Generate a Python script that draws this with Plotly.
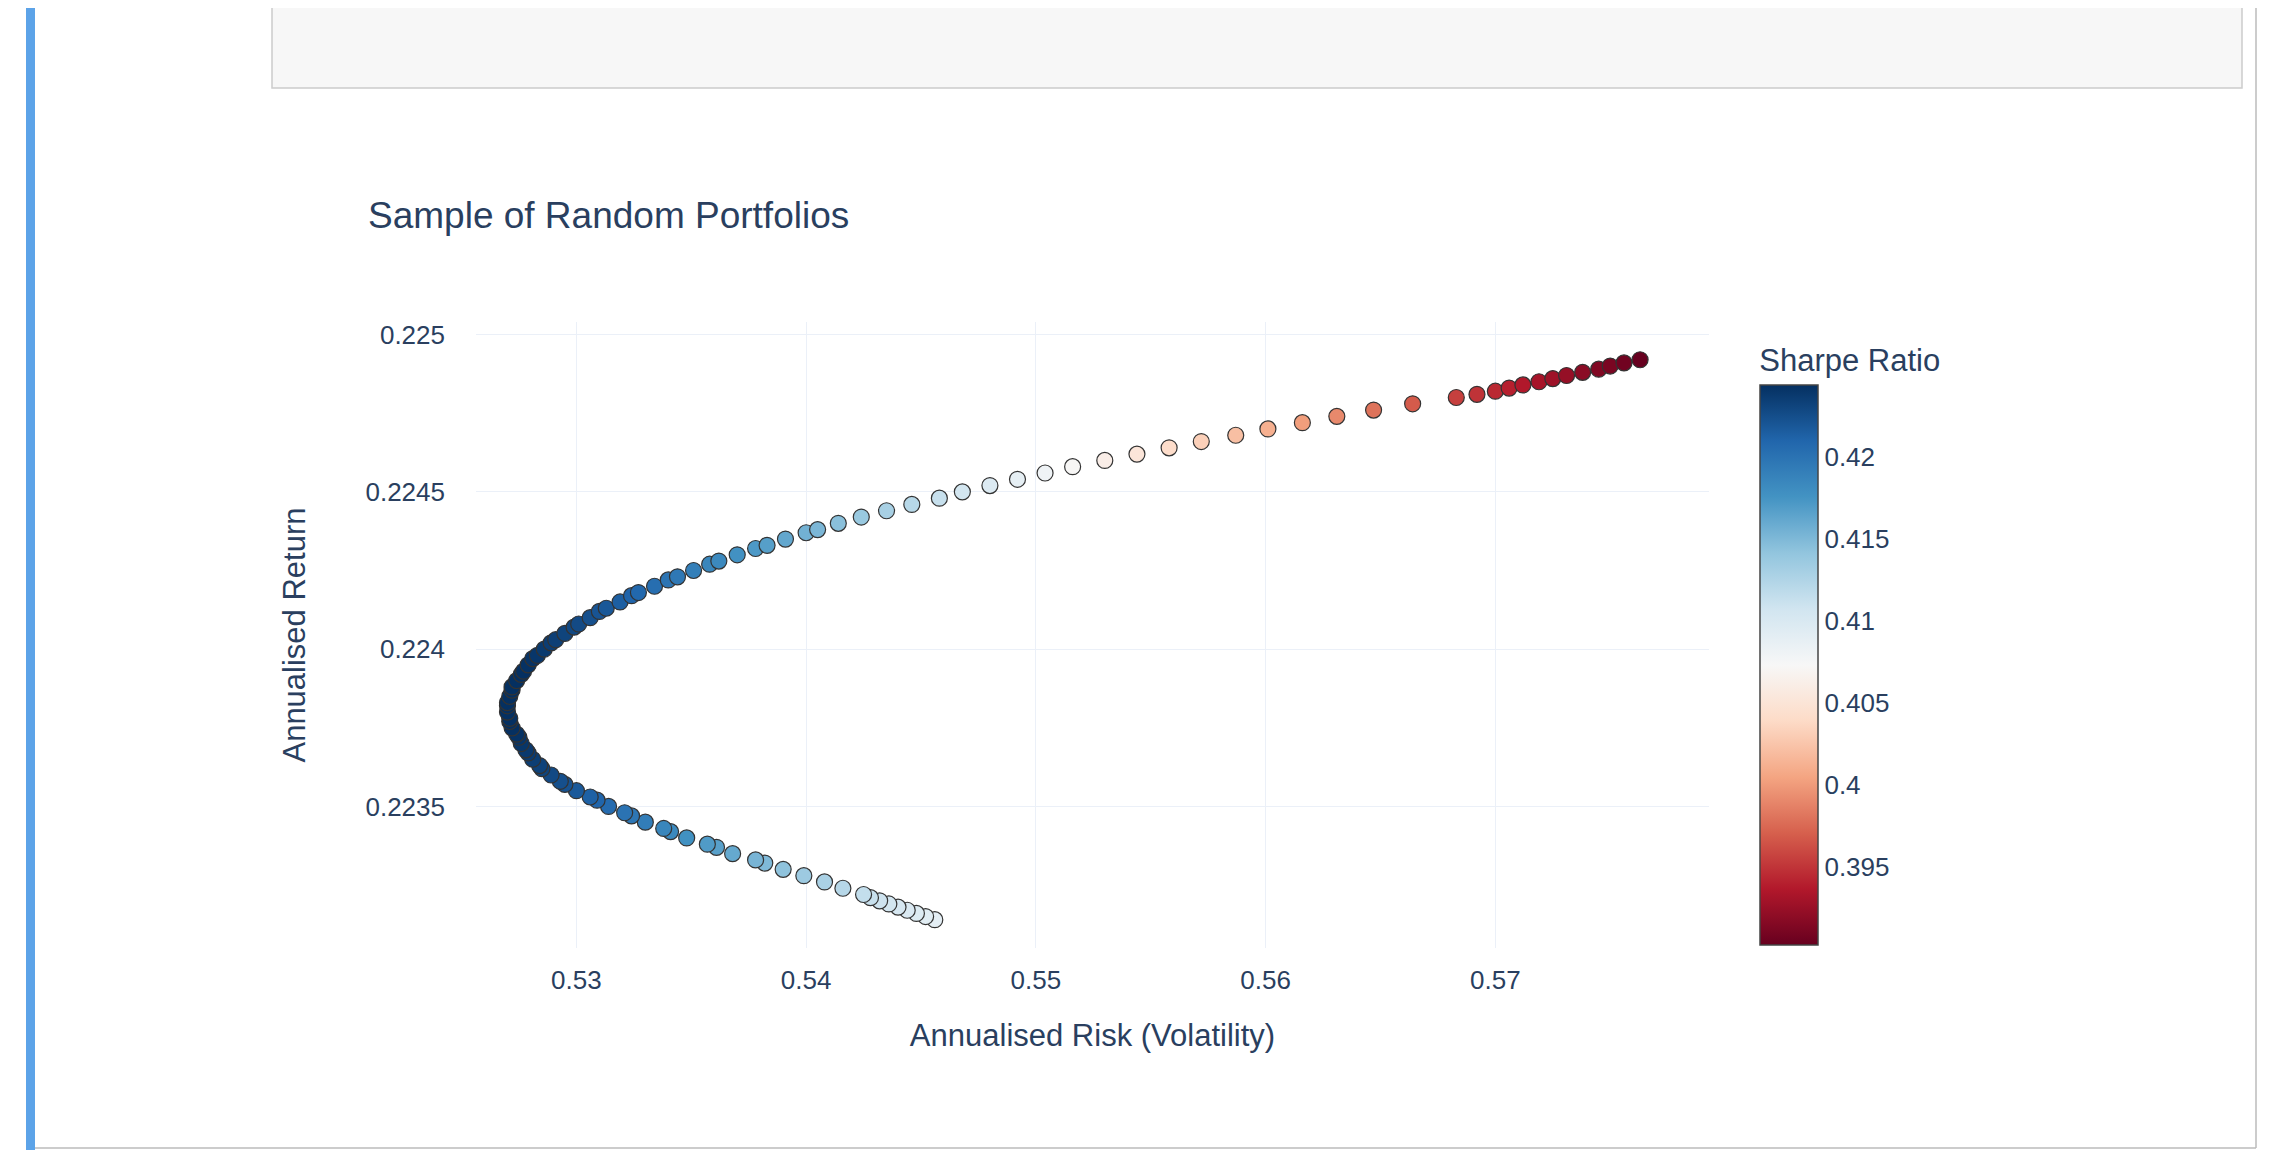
import plotly.graph_objects as go

returns = [0.22314,0.22315,0.22316,0.22317,0.22318,0.22319,0.22320,0.22321,0.22322,0.22324,0.22326,0.22328,0.22330,0.22332,0.22333,0.22335,0.22337,0.22338,0.22340,0.22342,0.22343,0.22345,0.22347,0.22348,0.22350,0.22352,0.22353,0.22355,0.22357,0.22358,0.22360,0.22362,0.22363,0.22365,0.22367,0.22368,0.22370,0.22372,0.22373,0.22375,0.22377,0.22378,0.22380,0.22382,0.22383,0.22385,0.22387,0.22388,0.22390,0.22392,0.22393,0.22395,0.22397,0.22398,0.22400,0.22402,0.22403,0.22405,0.22407,0.22408,0.22410,0.22412,0.22413,0.22415,0.22417,0.22418,0.22420,0.22422,0.22423,0.22425,0.22427,0.22428,0.22430,0.22432,0.22433,0.22435,0.22437,0.22438,
           0.22440,0.22442,0.22444,0.22446,0.22448,0.22450,0.22452,0.22454,0.22456,0.22458,0.22460,0.22462,0.22464,0.22466,0.22468,0.22470,0.22472,0.22474,0.22476,0.22478,0.22480,0.22481,0.22482,0.22483,0.22484,0.22485,0.22486,0.22487,0.22488,0.22489,0.22490,0.22491,0.22492]
risks = [0.5456,0.5452,0.5448,0.5444,0.5440,0.5436,0.5432,0.5428,0.5425,0.5416,0.5408,0.5399,0.5390,0.5382,0.5378,0.5368,0.5361,0.5357,0.5348,0.5341,0.5338,0.5330,0.5324,0.5321,0.5314,0.5309,0.5306,0.5300,0.5295,0.5293,0.5289,0.5285,0.5284,0.5281,0.5279,0.5278,0.5276,0.5275,0.5274,0.5272,0.5271,0.5271,0.5270,0.5270,0.5270,0.5271,0.5272,0.5272,0.5274,0.5276,0.5277,0.5279,0.5281,0.5283,0.5286,0.5289,0.5291,0.5295,0.5299,0.5301,0.5306,0.5310,0.5313,0.5319,0.5324,0.5327,0.5334,0.5340,0.5344,0.5351,0.5358,0.5362,0.5370,0.5378,0.5383,0.5391,0.5400,0.5405,
         0.5414,0.5424,0.5435,0.5446,0.5458,0.5468,0.5480,0.5492,0.5504,0.5516,0.5530,0.5544,0.5558,0.5572,0.5587,0.5601,0.5616,0.5631,0.5647,0.5664,0.5683,0.5692,0.5700,0.5706,0.5712,0.5719,0.5725,0.5731,0.5738,0.5745,0.5750,0.5756,0.5763]
sharpe = [r / v for r, v in zip(returns, risks)]
xticks = [0.53, 0.54, 0.55, 0.56, 0.57]
yticks = [0.2235, 0.224, 0.2245, 0.225]
cticks = [0.395, 0.40, 0.405, 0.41, 0.415, 0.42]

W, H = 2281, 1150
L, R, T, B = 468, 580, 314, 210
pw, ph = W - L - R, H - T - B
def px(x): return (x - L) / pw
def py(y): return 1 - (y - T) / ph

FONT = "Liberation Sans"
fig = go.Figure(go.Scatter(
    x=risks, y=returns, mode="markers",
    marker=dict(size=16, color=sharpe, colorscale="RdBu", cmin=0.39027, cmax=0.42437,
                line=dict(color="#333", width=1.2),
                colorbar=dict(title=dict(text="Sharpe Ratio", font=dict(size=31)),
                              tickvals=cticks, ticktext=["0.395","0.4","0.405","0.41","0.415","0.42"],
                              tickfont=dict(size=26), thickness=58, outlinewidth=1.5, outlinecolor="#444",
                              lenmode="pixels", len=600, y=py(337), yanchor="top",
                              x=px(1752), xanchor="left", xpad=0, ypad=0))))

shapes = [
    dict(type="rect", xref="paper", yref="paper", x0=px(18), x1=px(27), y0=py(0), y1=py(1142),
         fillcolor="#5ca3e8", line=dict(width=0)),
    dict(type="rect", xref="paper", yref="paper", x0=px(264), x1=px(2234), y0=py(-5), y1=py(80),
         fillcolor="#f7f7f7", line=dict(color="#cccccc", width=1.5)),
    dict(type="line", xref="paper", yref="paper", x0=px(27), x1=px(2248), y0=py(1140), y1=py(1140),
         line=dict(color="#bbbbbb", width=1.5)),
    dict(type="line", xref="paper", yref="paper", x0=px(2248), x1=px(2248), y0=py(0), y1=py(1140),
         line=dict(color="#bbbbbb", width=1.5)),
]

fig.update_layout(
    width=W, height=H, margin=dict(l=L, r=R, t=T, b=B),
    paper_bgcolor="white", plot_bgcolor="white",
    font=dict(family=FONT, color="#2a3f5f", size=26),
    title=dict(text="Sample of Random Portfolios", x=360 / W, xanchor="left",
               y=1 - 207 / H, yanchor="middle", font=dict(size=37)),
    xaxis=dict(title=dict(text="Annualised Risk (Volatility)", font=dict(size=31), standoff=30),
               range=[0.52563, 0.5793], tickvals=xticks, ticktext=["0.53","0.54","0.55","0.56","0.57"],
               ticklabelstandoff=14,
               gridcolor="#ebf0f8", zeroline=False, showline=False),
    yaxis=dict(title=dict(text="Annualised Return", font=dict(size=31), standoff=50),
               range=[0.22305, 0.22504], tickvals=yticks, ticktext=["0.2235","0.224","0.2245","0.225"],
               ticklabelstandoff=30,
               gridcolor="#ebf0f8", zeroline=False, showline=False),
    shapes=shapes, showlegend=False,
)
fig.write_html("out.html")
